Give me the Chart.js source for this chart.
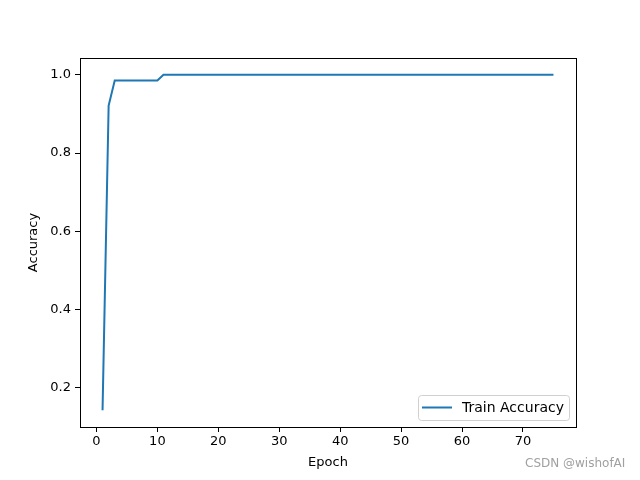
<!DOCTYPE html>
<html>
<head>
<meta charset="utf-8">
<script src="https://cdn.jsdelivr.net/npm/chart.js@4.4.0/dist/chart.umd.min.js"></script>
<style>
  html, body { margin: 0; padding: 0; background: #fff; }
  #wrap { position: relative; width: 640px; height: 480px; }
  #mark { position: absolute; left: 525px; top: 456px; font: 12px "DejaVu Sans", sans-serif; color: #a0a0a0; }
</style>
</head>
<body>
<div id="wrap">
  <canvas id="accChart" width="640" height="480"></canvas>
  <div id="mark">CSDN @wishofAI</div>
</div>
<script>
const epochs = [];
for (let e = 1; e <= 75; e++) epochs.push(e);

// accuracy per epoch
const trainAccuracy = [
  0.1429, 0.9214, 0.9857, 0.9857, 0.9857, 0.9857, 0.9857, 0.9857, 0.9857, 0.9857,
  1, 1, 1, 1, 1, 1, 1, 1, 1, 1,
  1, 1, 1, 1, 1, 1, 1, 1, 1, 1,
  1, 1, 1, 1, 1, 1, 1, 1, 1, 1,
  1, 1, 1, 1, 1, 1, 1, 1, 1, 1,
  1, 1, 1, 1, 1, 1, 1, 1, 1, 1,
  1, 1, 1, 1, 1, 1, 1, 1, 1, 1,
  1, 1, 1, 1, 1
];

const xTicks = [0, 10, 20, 30, 40, 50, 60, 70];
const yTicks = [0.2, 0.4, 0.6, 0.8, 1.0];

const font = { family: "DejaVu Sans", size: 13 };

// axes frame + legend drawn like matplotlib
const framePlugin = {
  id: "frame",
  afterDraw(chart) {
    const { ctx, chartArea: a } = chart;
    ctx.save();
    ctx.strokeStyle = "#000";
    ctx.lineWidth = 1;
    ctx.strokeRect(a.left + 0.5, a.top + 0.5, a.right - a.left, a.bottom - a.top);

    // legend
    const x = 418.5, y = 395.5, w = 151, h = 25;
    ctx.fillStyle = "rgba(255,255,255,0.8)";
    ctx.strokeStyle = "#d0d0d0";
    ctx.beginPath();
    ctx.roundRect(x, y, w, h, 3);
    ctx.fill();
    ctx.stroke();
    ctx.strokeStyle = "#1f77b4";
    ctx.lineWidth = 2;
    ctx.beginPath();
    ctx.moveTo(422, 407.5);
    ctx.lineTo(452, 407.5);
    ctx.stroke();
    ctx.fillStyle = "#000";
    ctx.font = "14px 'DejaVu Sans'";
    ctx.textBaseline = "middle";
    ctx.fillText("Train Accuracy", 462, 408);
    ctx.restore();
  }
};

new Chart(document.getElementById("accChart"), {
  type: "line",
  data: {
    datasets: [{
      label: "Train Accuracy",
      data: epochs.map((e, i) => ({ x: e, y: trainAccuracy[i] })),
      borderColor: "#1f77b4",
      borderWidth: 2,
      pointRadius: 0,
      tension: 0,
      fill: false
    }]
  },
  options: {
    responsive: false,
    animation: false,
    layout: { padding: { top: 58, right: 64, left: 0, bottom: 0 } },
    plugins: { legend: { display: false }, tooltip: { enabled: false } },
    scales: {
      x: {
        type: "linear",
        min: -2.7,
        max: 78.7,
        afterBuildTicks: s => { s.ticks = xTicks.map(v => ({ value: v })); },
        afterFit: s => { s.height = 53; },
        grid: { drawOnChartArea: false, tickLength: 5, color: "#000" },
        border: { color: "#000" },
        ticks: { color: "#000", font, padding: 2, maxRotation: 0 },
        title: { display: true, text: "Epoch", color: "#000", font, padding: { top: 0, bottom: 10 } }
      },
      y: {
        min: 0.1,
        max: 1.043,
        afterBuildTicks: s => { s.ticks = yTicks.map(v => ({ value: v })); },
        afterFit: s => { s.width = 80; },
        grid: { drawOnChartArea: false, tickLength: 5, color: "#000" },
        border: { color: "#000" },
        ticks: { color: "#000", font, padding: 4, callback: v => v.toFixed(1) },
        title: { display: true, text: "Accuracy", color: "#000", font, padding: { top: 26, bottom: 4 } }
      }
    }
  },
  plugins: [framePlugin]
});
</script>
</body>
</html>
